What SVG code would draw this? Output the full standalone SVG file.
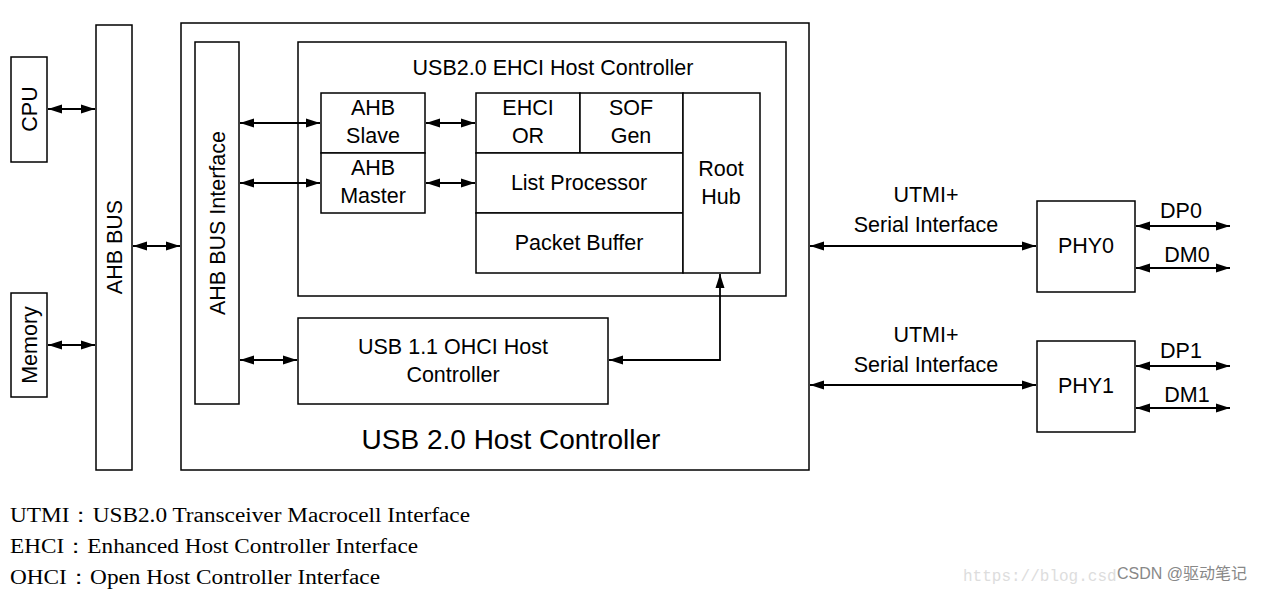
<svg xmlns="http://www.w3.org/2000/svg" width="1268" height="591" viewBox="0 0 1268 591">
<defs>
<marker id="a" viewBox="0 0 14 10" refX="14" refY="5" markerWidth="14" markerHeight="10" markerUnits="userSpaceOnUse" orient="auto-start-reverse"><path d="M0,0.5 L14,5 L0,9.5 z" fill="#000"/></marker>
<style>
.b{fill:#fff;stroke:#000;stroke-width:1.5}
.t{font-family:"Liberation Sans",Arial,sans-serif;font-size:21.5px;fill:#000;text-anchor:middle}
.c line,.c path{stroke:#000;stroke-width:1.8;fill:none;marker-start:url(#a);marker-end:url(#a)}
.l{font-family:"Liberation Serif",serif;font-size:20px;fill:#000}
</style>
</defs>
<rect width="1268" height="591" fill="#fff"/>
<g id="cpu"><rect class="b" x="11" y="57" width="36" height="105"/><text class="t" transform="translate(37,109) rotate(-90)">CPU</text></g>
<g id="memory"><rect class="b" x="11" y="293" width="36" height="104"/><text class="t" transform="translate(37,345) rotate(-90)">Memory</text></g>
<g id="ahbbus"><rect class="b" x="96" y="25" width="36" height="445"/><text class="t" transform="translate(122,247) rotate(-90)">AHB BUS</text></g>
<g id="host"><rect class="b" x="181" y="23" width="628" height="447"/><text class="t" x="511" y="449" style="font-size:28px">USB 2.0 Host Controller</text></g>
<g id="ahbif"><rect class="b" x="195" y="42" width="44" height="362"/><text class="t" transform="translate(225,223) rotate(-90)">AHB BUS Interface</text></g>
<g id="ehci"><rect class="b" x="298" y="42" width="488" height="254"/><text class="t" x="553" y="75">USB2.0 EHCI Host Controller</text></g>
<g id="slave"><rect class="b" x="321" y="93" width="104" height="60"/><text class="t" x="373" y="115">AHB</text><text class="t" x="373" y="143">Slave</text></g>
<g id="master"><rect class="b" x="321" y="153" width="104" height="60"/><text class="t" x="373" y="175">AHB</text><text class="t" x="373" y="203">Master</text></g>
<g id="ehcior"><rect class="b" x="476" y="93" width="104" height="60"/><text class="t" x="528" y="115">EHCI</text><text class="t" x="528" y="143">OR</text></g>
<g id="sof"><rect class="b" x="580" y="93" width="103" height="60"/><text class="t" x="631" y="115">SOF</text><text class="t" x="631" y="143">Gen</text></g>
<g id="listp"><rect class="b" x="476" y="153" width="207" height="60"/><text class="t" x="579" y="190">List Processor</text></g>
<g id="pbuf"><rect class="b" x="476" y="213" width="207" height="60"/><text class="t" x="579" y="250">Packet Buffer</text></g>
<g id="roothub"><rect class="b" x="683" y="93" width="77" height="180"/><text class="t" x="721" y="176">Root</text><text class="t" x="721" y="204">Hub</text></g>
<g id="ohci"><rect class="b" x="298" y="318" width="310" height="86"/><text class="t" x="453" y="354">USB 1.1 OHCI Host</text><text class="t" x="453" y="382">Controller</text></g>
<g id="phy0"><rect class="b" x="1037" y="201" width="98" height="91"/><text class="t" x="1086" y="253">PHY0</text></g>
<g id="phy1"><rect class="b" x="1037" y="341" width="98" height="91"/><text class="t" x="1086" y="393">PHY1</text></g>
<g class="c" id="connectors">
<line x1="48" y1="109" x2="95" y2="109"/>
<line x1="48" y1="345" x2="95" y2="345"/>
<line x1="133" y1="246" x2="180" y2="246"/>
<line x1="240" y1="123" x2="320" y2="123"/>
<line x1="240" y1="183" x2="320" y2="183"/>
<line x1="426" y1="123" x2="475" y2="123"/>
<line x1="426" y1="183" x2="475" y2="183"/>
<line x1="240" y1="360" x2="297" y2="360"/>
<path d="M609,360 H720 V274"/>
<line x1="810" y1="246" x2="1036" y2="246"/>
<line x1="810" y1="385" x2="1036" y2="385"/>
<line x1="1136" y1="226" x2="1230" y2="226"/>
<line x1="1136" y1="268" x2="1230" y2="268"/>
<line x1="1136" y1="366" x2="1230" y2="366"/>
<line x1="1136" y1="408" x2="1230" y2="408"/>
</g>
<g id="labels">
<text class="t" x="926" y="202">UTMI+</text><text class="t" x="926" y="232">Serial Interface</text>
<text class="t" x="926" y="342">UTMI+</text><text class="t" x="926" y="372">Serial Interface</text>
<text class="t" x="1181" y="218">DP0</text><text class="t" x="1187" y="262">DM0</text>
<text class="t" x="1181" y="358">DP1</text><text class="t" x="1187" y="402">DM1</text>
</g>
<text class="l" x="10" y="522" textLength="460" lengthAdjust="spacingAndGlyphs">UTMI：USB2.0 Transceiver Macrocell Interface</text>
<text class="l" x="10" y="553" textLength="408" lengthAdjust="spacingAndGlyphs">EHCI：Enhanced Host Controller Interface</text>
<text class="l" x="10" y="584" textLength="370" lengthAdjust="spacingAndGlyphs">OHCI：Open Host Controller Interface</text>
<text x="963" y="581" style="font-family:'Liberation Mono',monospace;font-size:16px;fill:#ddd">https://blog.csd</text>
<text x="1117" y="579" style="font-family:'Liberation Sans','Noto Sans CJK SC',sans-serif;font-size:16px;fill:#888">CSDN @驱动笔记</text>
</svg>
